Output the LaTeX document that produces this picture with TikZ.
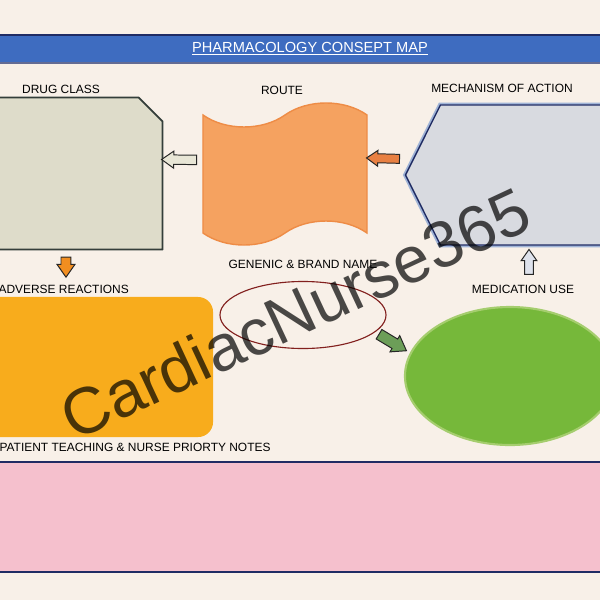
\documentclass[tikz,border=0pt]{standalone}
\usepackage{fontspec}
\setmainfont{Liberation Sans}
\usetikzlibrary{shapes.geometric,shapes.symbols,shapes.arrows,positioning}

\definecolor{paper}{RGB}{248,240,232}
\definecolor{bannerblue}{RGB}{62,108,192}
\definecolor{navy}{RGB}{32,44,100}
\definecolor{classfill}{RGB}{222,220,202}
\definecolor{classline}{RGB}{52,62,58}
\definecolor{routefill}{RGB}{245,162,96}
\definecolor{routeline}{RGB}{238,140,70}
\definecolor{mechfill}{RGB}{216,218,224}
\definecolor{mechglow}{RGB}{160,180,215}
\definecolor{adversefill}{RGB}{248,172,28}
\definecolor{namered}{RGB}{130,32,30}
\definecolor{usefill}{RGB}{118,184,58}
\definecolor{useline}{RGB}{165,205,110}
\definecolor{notespink}{RGB}{245,192,205}
\definecolor{arroworange}{RGB}{232,128,66}
\definecolor{downorange}{RGB}{242,142,32}
\definecolor{arrowgreen}{RGB}{108,158,88}
\definecolor{hollowbeige}{RGB}{232,230,214}
\definecolor{hollowblue}{RGB}{222,226,236}

\begin{document}
\begin{tikzpicture}[x=0.025cm, y=0.025cm, thick,
                    label node/.style={font=\fontsize{8.5}{10}\selectfont, inner sep=0pt},
                    block arrow/.style={single arrow, draw=black!85, line width=0.7pt, inner xsep=0pt,
                                        single arrow tip angle=70, allow upside down}]

  \fill[paper] (0,0) rectangle (600,-600);
  \useasboundingbox (0,0) rectangle (600,-600);

  \fill[bannerblue] (0,-35) rectangle (600,-63);
  \draw[navy, line width=1.2pt] (0,-35) -- (600,-35);
  \draw[navy!70, line width=0.8pt] (0,-63) -- (600,-63);
  \node[font=\fontsize{10.4}{12}\selectfont, text=white] (title) at (310,-49) {\underline{PHARMACOLOGY CONSEPT MAP}};

  \fill[notespink] (0,-462) rectangle (600,-572);
  \draw[navy, line width=0.8pt] (0,-462) -- (600,-462) (0,-572) -- (600,-572);

  \node[minimum width=4.1cm, minimum height=3.775cm, inner sep=0pt] (drugclass) at (80,-173.5) {};
  \filldraw[draw=classline, fill=classfill, line width=1.2pt, line join=round]
    (drugclass.south west) -- (drugclass.north west) -- ([xshift=-0.6cm]drugclass.north east)
    -- ([yshift=-0.6cm]drugclass.north east) -- (drugclass.south east) -- cycle;
  \node[tape, draw=routeline, fill=routefill, line width=1pt, minimum width=4.1cm, minimum height=3.55cm,
        tape bend height=0.6cm, inner sep=0pt] (route) at (285,-174) {};
  \node[signal, signal to=west, signal pointer angle=127, draw=navy, fill=mechfill, line width=1pt,
        preaction={draw=mechglow, line width=3.5pt}, minimum width=5.9cm, minimum height=3.5cm,
        inner sep=0pt] (mechanism) at (541,-175) {};
  \node[rectangle, rounded corners=0.375cm, fill=adversefill, minimum width=5.7cm, minimum height=3.5cm] (adverse) at (99,-367) {};
  \node[ellipse, draw=namered, line width=0.8pt, minimum width=4.15cm, minimum height=1.675cm, inner sep=0pt] (generic) at (303,-315) {};
  \node[ellipse, fill=usefill, draw=useline, line width=1.5pt, minimum width=5.25cm, minimum height=3.45cm] (meduse) at (510,-376) {};

  \node[label node] (drugtext) at (61,-89) {DRUG CLASS};
  \node[label node] (routetext) at (282,-90) {ROUTE};
  \node[label node] (mechtext) at (502,-88) {MECHANISM OF ACTION};
  \node[label node] (nametext) [above=8.5pt of generic] {GENENIC \& BRAND NAME};
  \node[label node] (usetext) at (523,-289) {MEDICATION USE};
  \node[label node, anchor=west] (adversetext) at (-2,-289) {ADVERSE REACTIONS};
  \node[label node, anchor=west] (notestext) at (-1,-447) {PATIENT TEACHING \& NURSE PRIORTY NOTES};

  \path ([yshift=0.35cm]route.west) -- ([yshift=0.35cm]drugclass.east)
        node[block arrow, midway, sloped, fill=hollowbeige, minimum height=0.875cm, inner ysep=0.105cm,
             single arrow head extend=0.095cm] (toclass) {};
  \path ([yshift=0.4cm]mechanism.west) -- ([yshift=0.4cm]route.east)
        node[block arrow, midway, sloped, fill=arroworange, minimum height=0.825cm, inner ysep=0.1cm,
             single arrow head extend=0.085cm] (toroute) {};
  \path ([xshift=-0.35cm]drugclass.south) -- ([xshift=-0.35cm]drugclass.south |- adverse.north)
        node[block arrow, pos=0.3, sloped, fill=downorange, minimum height=0.5cm, inner ysep=0.1125cm,
             single arrow head extend=0.1cm] (toadverse) {};
  \path ([xshift=0.475cm]meduse.north) -- ([xshift=0.475cm]meduse.north |- mechanism.south)
        node[block arrow, pos=0.68, sloped, fill=hollowblue, minimum height=0.625cm, inner ysep=0.095cm,
             single arrow head extend=0.09cm] (tomech) {};
  \path (generic) -- (meduse)
        node[block arrow, pos=0.44, rotate=-31, fill=arrowgreen, minimum height=0.8cm, inner ysep=0.125cm,
             single arrow head extend=0.1cm] (touse) {};

  \node[font=\fontsize{46.5}{46.5}\selectfont, text=black, opacity=0.7, rotate=25, anchor=base west, inner sep=0pt] (watermark) at (74,-442) {CardiacNurse365};

\end{tikzpicture}
\end{document}
